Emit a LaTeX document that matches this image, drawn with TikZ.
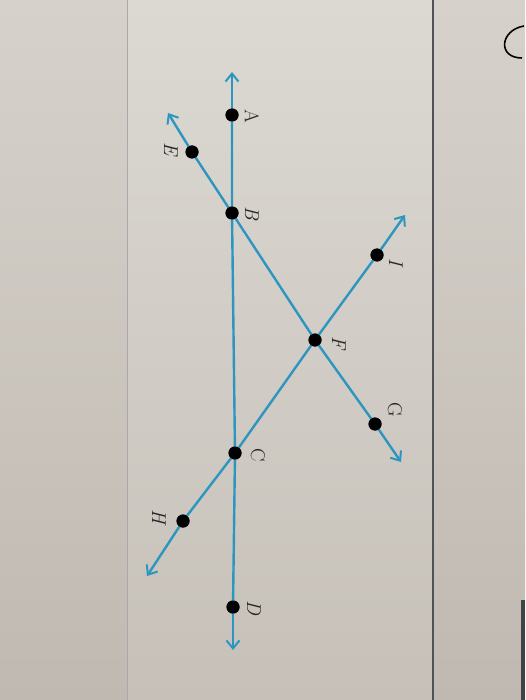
\documentclass[tikz,border=0pt]{standalone}
\usetikzlibrary{arrows.meta}
\definecolor{geoblue}{RGB}{45,150,192}
\definecolor{bgtop}{RGB}{214,210,203}
\definecolor{bgbot}{RGB}{192,185,177}
\definecolor{paneltop}{RGB}{220,217,211}
\definecolor{panelbot}{RGB}{198,192,184}
\definecolor{edge}{RGB}{80,82,88}
\tikzset{
  geoline/.style={draw=geoblue, line width=2.4pt},
  tip/.style={-{Straight Barb[length=8pt,width=13pt,line width=2pt]}},
  dot/.style={circle, fill=black, inner sep=0pt, minimum size=13pt},
  lbl/.style={rotate=-90, font=\fontsize{20}{20}\selectfont, text=black!85, inner sep=0pt},
}
\begin{document}
\begin{tikzpicture}[x=1pt,y=-1pt]
\useasboundingbox (0,0) rectangle (525,700);
% background photo tone
\shade[top color=bgtop, bottom color=bgbot] (0,0) rectangle (525,700);
\shade[top color=paneltop, bottom color=panelbot] (127,0) rectangle (432,700);
\draw[edge!50, line width=0.6pt] (127,0) -- (127,700);
\draw[edge, line width=1.2pt] (433,0) -- (433,700);
\fill[edge!80!black] (521,600) rectangle (525,700);
\draw[black, line width=1.6pt] (524,26) .. controls (500,30) and (497,58) .. (522,58);

% points
\node[dot] (A) at (232,115) {};
\node[dot] (B) at (232,213) {};
\node[dot] (C) at (235,453) {};
\node[dot] (D) at (233,607) {};
\node[dot] (E) at (192,152) {};
\node[dot] (F) at (315,340) {};
\node[dot] (G) at (375,424) {};
\node[dot] (H) at (183,521) {};
\node[dot] (I) at (377,255) {};

% arrow ends
\coordinate (Atop) at (232,72);
\coordinate (Dbot) at (233,650);
\coordinate (Eend) at (168,113);
\coordinate (Gend) at (401,462);
\coordinate (Hend) at (147,576);
\coordinate (Iend) at (405,215);

% lines
\draw[geoline] (A.center) -- (B.center) -- (C.center) -- (D.center);
\draw[geoline, tip] (A.center) -- (Atop);
\draw[geoline, tip] (D.center) -- (Dbot);
\draw[geoline] (E.center) -- (B.center) -- (F.center) -- (G.center);
\draw[geoline, tip] (E.center) -- (Eend);
\draw[geoline, tip] (G.center) -- (Gend);
\draw[geoline] (H.center) -- (C.center) -- (F.center) -- (I.center);
\draw[geoline, tip] (H.center) -- (Hend);
\draw[geoline, tip] (I.center) -- (Iend);

% dots on top
\foreach \p in {A,B,C,D,E,F,G,H,I} {\fill[black] (\p.center) circle (6.5pt);}

% labels
\node[lbl] (lA) at (252,116) {A};
\node[lbl] (lB) at (252,214) {\textit{B}};
\node[lbl] (lC) at (258,455) {C};
\node[lbl] (lD) at (254,608) {\textit{D}};
\node[lbl] (lE) at (171,150) {\textit{E}};
\node[lbl] (lF) at (339,344) {\textit{F}};
\node[lbl] (lG) at (395,410) {G};
\node[lbl] (lH) at (159,518) {\textit{H}};
\node[lbl] (lI) at (396,263) {\textit{I}};
\end{tikzpicture}
\end{document}
